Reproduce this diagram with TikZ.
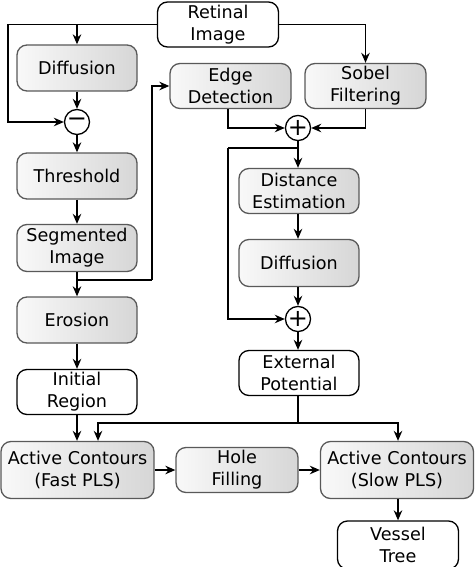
\documentclass[tikz,border=0pt]{standalone}
\usepackage{fontspec}
\setmainfont{DejaVu Sans}
\usetikzlibrary{arrows.meta}
\begin{document}
\begin{tikzpicture}[x=1pt,y=-1pt,
 base/.style={line width=1.3pt, rounded corners=10pt, align=center, inner sep=0pt, font=\fontsize{17.6}{22}\selectfont},
 box/.style={base, draw=black!65, left color=gray!5, right color=gray!32},
 wbox/.style={base, draw=black, fill=white},
 op/.style={circle, draw=black, line width=1.3pt, minimum size=25pt, inner sep=0pt, fill=white, font=\fontsize{24}{24}\selectfont},
 arr/.style={-{Stealth[length=10pt,width=8.5pt]}, line width=1.8pt},
 ln/.style={line width=1.8pt}]
\useasboundingbox (0,0) rectangle (474,567);

\node[wbox, minimum width=121pt, minimum height=45pt] (ret) at (218,24.5) {Retinal\\Image};
\node[box, minimum width=120pt, minimum height=46pt] (dif1) at (77,68) {Diffusion};
\node[op] (minus) at (77,122) {−};
\node[box, minimum width=120pt, minimum height=46pt] (thr) at (77,176) {Threshold};
\node[box, minimum width=120pt, minimum height=47pt] (seg) at (77,248) {Segmented\\Image};
\node[box, minimum width=120pt, minimum height=46pt] (ero) at (77,320) {Erosion};
\node[wbox, minimum width=120pt, minimum height=45pt] (init) at (77,392) {Initial\\Region};
\node[box, minimum width=153pt, minimum height=57pt] (fast) at (77.5,470) {Active Contours\\(Fast PLS)};
\node[box, minimum width=122pt, minimum height=45pt] (hole) at (237,470) {Hole\\Filling};
\node[box, minimum width=153pt, minimum height=57pt] (slow) at (397,470) {Active Contours\\(Slow PLS)};
\node[wbox, minimum width=121pt, minimum height=48pt] (ves) at (398,545) {Vessel\\Tree};
\node[box, minimum width=121pt, minimum height=45pt] (edge) at (230.5,86) {Edge\\Detection};
\node[box, minimum width=121pt, minimum height=45pt] (sob) at (365.5,86) {Sobel\\Filtering};
\node[op] (p1) at (298,128) {+};
\node[box, minimum width=120pt, minimum height=45pt] (dist) at (299,191) {Distance\\Estimation};
\node[box, minimum width=120pt, minimum height=47pt] (dif2) at (299,263) {Diffusion};
\node[op] (p2) at (298,319) {+};
\node[wbox, minimum width=120pt, minimum height=45pt] (ext) at (299,373) {External\\Potential};

\coordinate (cl) at (8,24.5);
\coordinate (segturn) at (77,280);
\coordinate (c1) at (152,280);
\coordinate (c2) at (298,148);
\coordinate (c3) at (228,148);
\coordinate (j) at (298,423);

\draw[arr] (ret.west) -- (cl) |- (minus.west);
\draw[arr] (dif1.north |- ret.west) -- (dif1.north);
\draw[arr] (ret.east) -| (sob.north);
\draw[arr] (dif1) -- (minus);
\draw[arr] (minus) -- (thr);
\draw[arr] (thr) -- (seg);
\draw[arr] (seg) -- (ero);
\draw[arr] (ero) -- (init);
\draw[arr] (init.south) -- (fast.north -| init.south);
\draw[ln] (segturn) -- (c1);
\draw[arr] (c1) |- (edge.west);
\draw[arr] (edge.south -| c3) |- (p1.west);
\draw[arr] (sob.south) |- (p1.east);
\draw[arr] (p1) -- (dist.north -| p1);
\draw[ln] (c2) -- (c3);
\draw[arr] (c3) |- (p2.west);
\draw[arr] (dist.south -| p2) -- (dif2.north -| p2);
\draw[arr] (dif2.south -| p2) -- (p2);
\draw[arr] (p2) -- (ext.north -| p2);
\draw[ln] (ext.south -| j) -- (j);
\draw[arr] (j) -| (slow.north -| ves);
\draw[arr] (j) -| ([xshift=21pt]fast.north -| init);
\draw[arr] (fast) -- (hole);
\draw[arr] (hole) -- (slow);
\draw[arr] (slow.south -| ves) -- (ves);
\end{tikzpicture}
\end{document}
